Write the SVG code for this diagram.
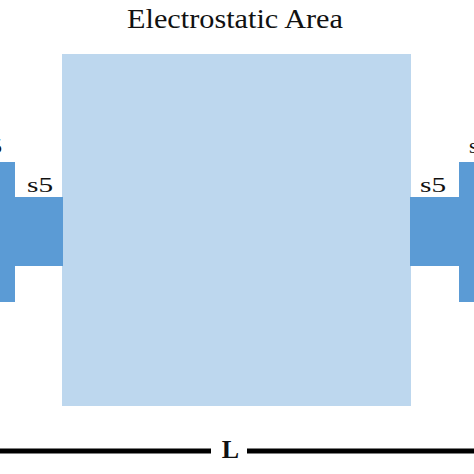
<svg xmlns="http://www.w3.org/2000/svg" width="474" height="474" viewBox="0 0 474 474">
<style>
.t{font-family:"Liberation Serif",serif;fill:#111}
.light{fill:#BDD7EE}
.dark{fill:#5B9BD5}
</style>
<rect width="474" height="474" fill="#fff"/>
<text class="t" x="235" y="28" font-size="27" text-anchor="middle" textLength="216" lengthAdjust="spacingAndGlyphs">Electrostatic Area</text>
<g id="area"><rect class="light" x="62" y="54" width="349" height="352"/></g>
<g id="left-electrode">
<rect class="dark" x="0" y="162" width="15" height="140"/>
<rect class="dark" x="14" y="197" width="49" height="69"/>
<text class="t" x="27" y="192" font-size="22" textLength="26" lengthAdjust="spacingAndGlyphs">s5</text>
<text class="t" x="2" y="153" font-size="22" text-anchor="end">s5</text>
</g>
<g id="right-electrode">
<rect class="dark" x="410" y="197" width="50" height="69"/>
<rect class="dark" x="459" y="162" width="15" height="140"/>
<text class="t" x="420" y="192" font-size="22" textLength="26" lengthAdjust="spacingAndGlyphs">s5</text>
<text class="t" x="469" y="153" font-size="22">s5</text>
</g>
<g id="connectors">
<line x1="0" y1="451" x2="211" y2="451" stroke="#000" stroke-width="5"/>
<line x1="247" y1="451" x2="474" y2="451" stroke="#000" stroke-width="5"/>
</g>
<text class="t" x="230.5" y="458" font-size="26" font-weight="bold" text-anchor="middle">L</text>
</svg>
